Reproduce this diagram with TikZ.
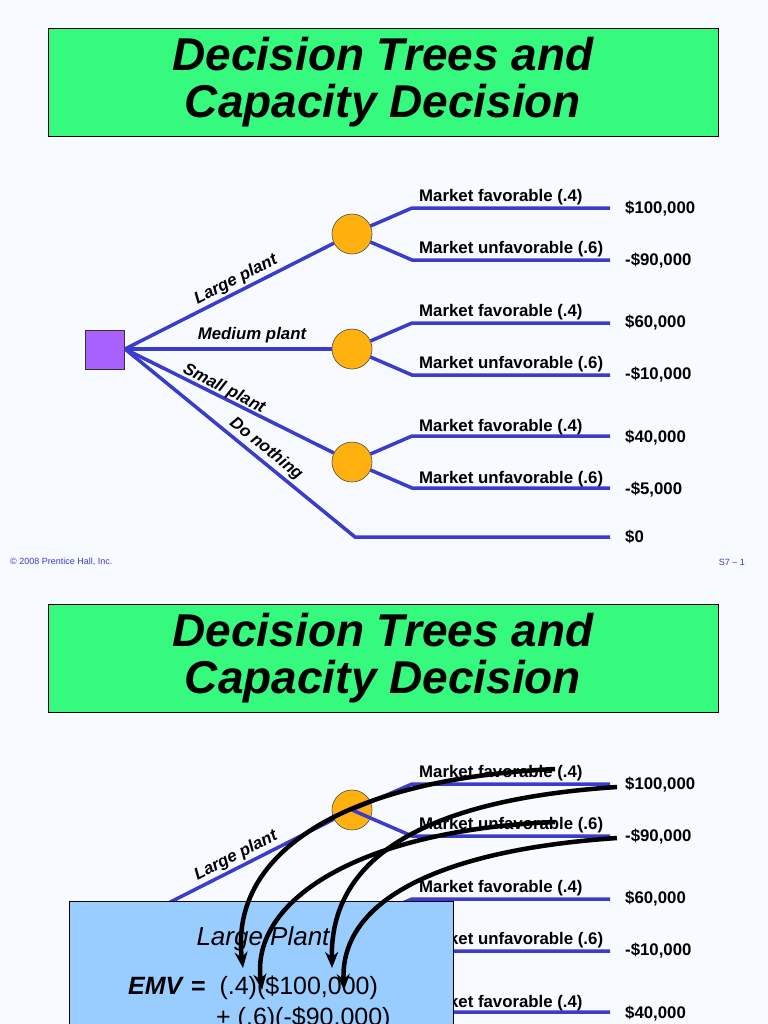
\documentclass[tikz,border=0pt]{standalone}
\usepackage{fontspec}
\setmainfont{Liberation Sans}
\usetikzlibrary{arrows.meta}
\definecolor{bg}{HTML}{F7FAFF}
\definecolor{ttl}{HTML}{35FA7D}
\definecolor{br}{HTML}{3B3BCC}
\definecolor{chc}{HTML}{FFB10F}
\definecolor{dec}{HTML}{A860FF}
\definecolor{emv}{HTML}{99CCFF}
\definecolor{ftr}{HTML}{3B3BCC}
\begin{document}
\begin{tikzpicture}[x=1bp,y=-1bp,
 branch/.style={draw=br,line width=3.5bp},
 chance/.style={circle,draw=black!70,fill=chc,minimum size=40bp,inner sep=0pt,line width=0.6bp},
 decbox/.style={draw=black!80,fill=dec,minimum size=39bp,inner sep=0pt,line width=0.8bp},
 titlebox/.style={draw=black,fill=ttl,minimum width=670bp,minimum height=108bp,line width=0.6bp,
   align=center,font=\bfseries\itshape\fontsize{46bp}{47bp}\selectfont},
 mlab/.style={anchor=west,font=\bfseries\fontsize{16.8bp}{18bp}\selectfont,inner sep=0pt},
 pay/.style={anchor=west,font=\bfseries\fontsize{16.8bp}{18bp}\selectfont,inner sep=0pt},
 alab/.style={font=\bfseries\itshape\fontsize{16.8bp}{18bp}\selectfont,inner sep=0pt},
 foot/.style={text=ftr,font=\fontsize{9bp}{10bp}\selectfont,inner sep=0pt},
 arr/.style={line width=4.5bp,-{Stealth[length=16bp,width=13bp]}}]
\useasboundingbox (0,0) rectangle (768,1024);
\clip (0,0) rectangle (768,1024);
\fill[bg] (0,0) rectangle (768,1024);
% ---------- top slide ----------
\node[titlebox] (t1) at (383,82) {Decision Trees and\\Capacity Decision};
\node[decbox] (d1) at (105,349.5) {};
\node[chance] (c1) at (352,234) {};
\node[chance] (c2) at (352,349) {};
\node[chance] (c3) at (352,462) {};
\coordinate (o1) at (125,349);
\coordinate (dn) at (355,537);
\coordinate (dne) at (610,537);
\draw[branch] (o1) -- (c1);
\draw[branch] (o1) -- (c2);
\draw[branch] (o1) -- (c3);
\draw[branch] (o1) -- (dn) -- (dne);
\foreach \c/\y in {c1/234,c2/349,c3/462}{
  \draw[branch] (\c) -- (412,\y-26) -- (610,\y-26);
  \draw[branch] (\c) -- (412,\y+26) -- (610,\y+26);
}
\node[alab,rotate=27] (l1) at (236,280) {Large plant};
\node[alab] (l2) at (252,335) {Medium plant};
\node[alab,rotate=-27] (l3) at (224,389) {Small plant};
\node[alab,rotate=-39] (l4) at (266,449) {Do nothing};
\node[mlab] (m1) at (419,197) {Market favorable (.4)};
\node[mlab] (m2) at (419,249) {Market unfavorable (.6)};
\node[mlab] (m3) at (419,312) {Market favorable (.4)};
\node[mlab] (m4) at (419,364) {Market unfavorable (.6)};
\node[mlab] (m5) at (419,427) {Market favorable (.4)};
\node[mlab] (m6) at (419,479) {Market unfavorable (.6)};
\node[pay] (p1) at (625,209) {\$100,000};
\node[pay] (p2) at (625,261) {-\$90,000};
\node[pay] (p3) at (625,323) {\$60,000};
\node[pay] (p4) at (625,375) {-\$10,000};
\node[pay] (p5) at (625,438) {\$40,000};
\node[pay] (p6) at (625,490) {-\$5,000};
\node[pay] (p7) at (625,537) {\$0};
\node[foot,anchor=west] (f1) at (10,562) {© 2008 Prentice Hall, Inc.};
\node[foot,anchor=east] (f2) at (745,562) {S7 – 1};
% ---------- bottom slide ----------
\node[titlebox] (t2) at (383,658) {Decision Trees and\\Capacity Decision};
\node[decbox] (d2) at (105,925.5) {};
\node[chance] (e1) at (352,810) {};
\coordinate (o2) at (125,925);
\draw[branch] (o2) -- (e1);
\foreach \y in {810,925,1038}{
  \draw[branch] (352,\y) -- (412,\y-26) -- (610,\y-26);
  \draw[branch] (352,\y) -- (412,\y+26) -- (610,\y+26);
}
\node[alab,rotate=27] (k1) at (236,856) {Large plant};
\node[mlab] (n1) at (419,773) {Market favorable (.4)};
\node[mlab] (n2) at (419,825) {Market unfavorable (.6)};
\node[mlab] (n3) at (419,888) {Market favorable (.4)};
\node[mlab] (n4) at (419,940) {Market unfavorable (.6)};
\node[mlab] (n5) at (419,1003) {Market favorable (.4)};
\node[pay] (q1) at (625,785) {\$100,000};
\node[pay] (q2) at (625,837) {-\$90,000};
\node[pay] (q3) at (625,899) {\$60,000};
\node[pay] (q4) at (625,951) {-\$10,000};
\node[pay] (q5) at (625,1014) {\$40,000};
\node[draw=black,fill=emv,line width=0.6bp,minimum width=384bp,minimum height=150bp,anchor=north west,inner sep=0pt] (eb) at (69,901) {};
\node[font=\itshape\fontsize{26bp}{28bp}\selectfont,inner sep=0pt] (lp) at (263,939) {Large Plant};
\node[font=\fontsize{25bp}{27bp}\selectfont,anchor=west,inner sep=0pt] (ev) at (128,988) {\textbf{\textit{EMV} =}\ \ (.4)(\$100,000)};
\node[font=\fontsize{25bp}{27bp}\selectfont,anchor=west,inner sep=0pt] (ev2) at (216,1019) {+ (.6)(-\$90,000)};
\coordinate (a1s) at (555,769);
\coordinate (a1e) at (243,968);
\coordinate (a2s) at (617,787);
\coordinate (a2e) at (332,968);
\coordinate (a3s) at (555,822);
\coordinate (a3e) at (262,990);
\coordinate (a4s) at (617,838);
\coordinate (a4e) at (344,990);
\draw[arr] (a1s) .. controls (330,780) and (230,860) .. (a1e);
\draw[arr] (a2s) .. controls (420,800) and (330,860) .. (a2e);
\draw[arr] (a3s) .. controls (360,830) and (250,900) .. (a3e);
\draw[arr] (a4s) .. controls (440,850) and (340,900) .. (a4e);
\end{tikzpicture}
\end{document}
